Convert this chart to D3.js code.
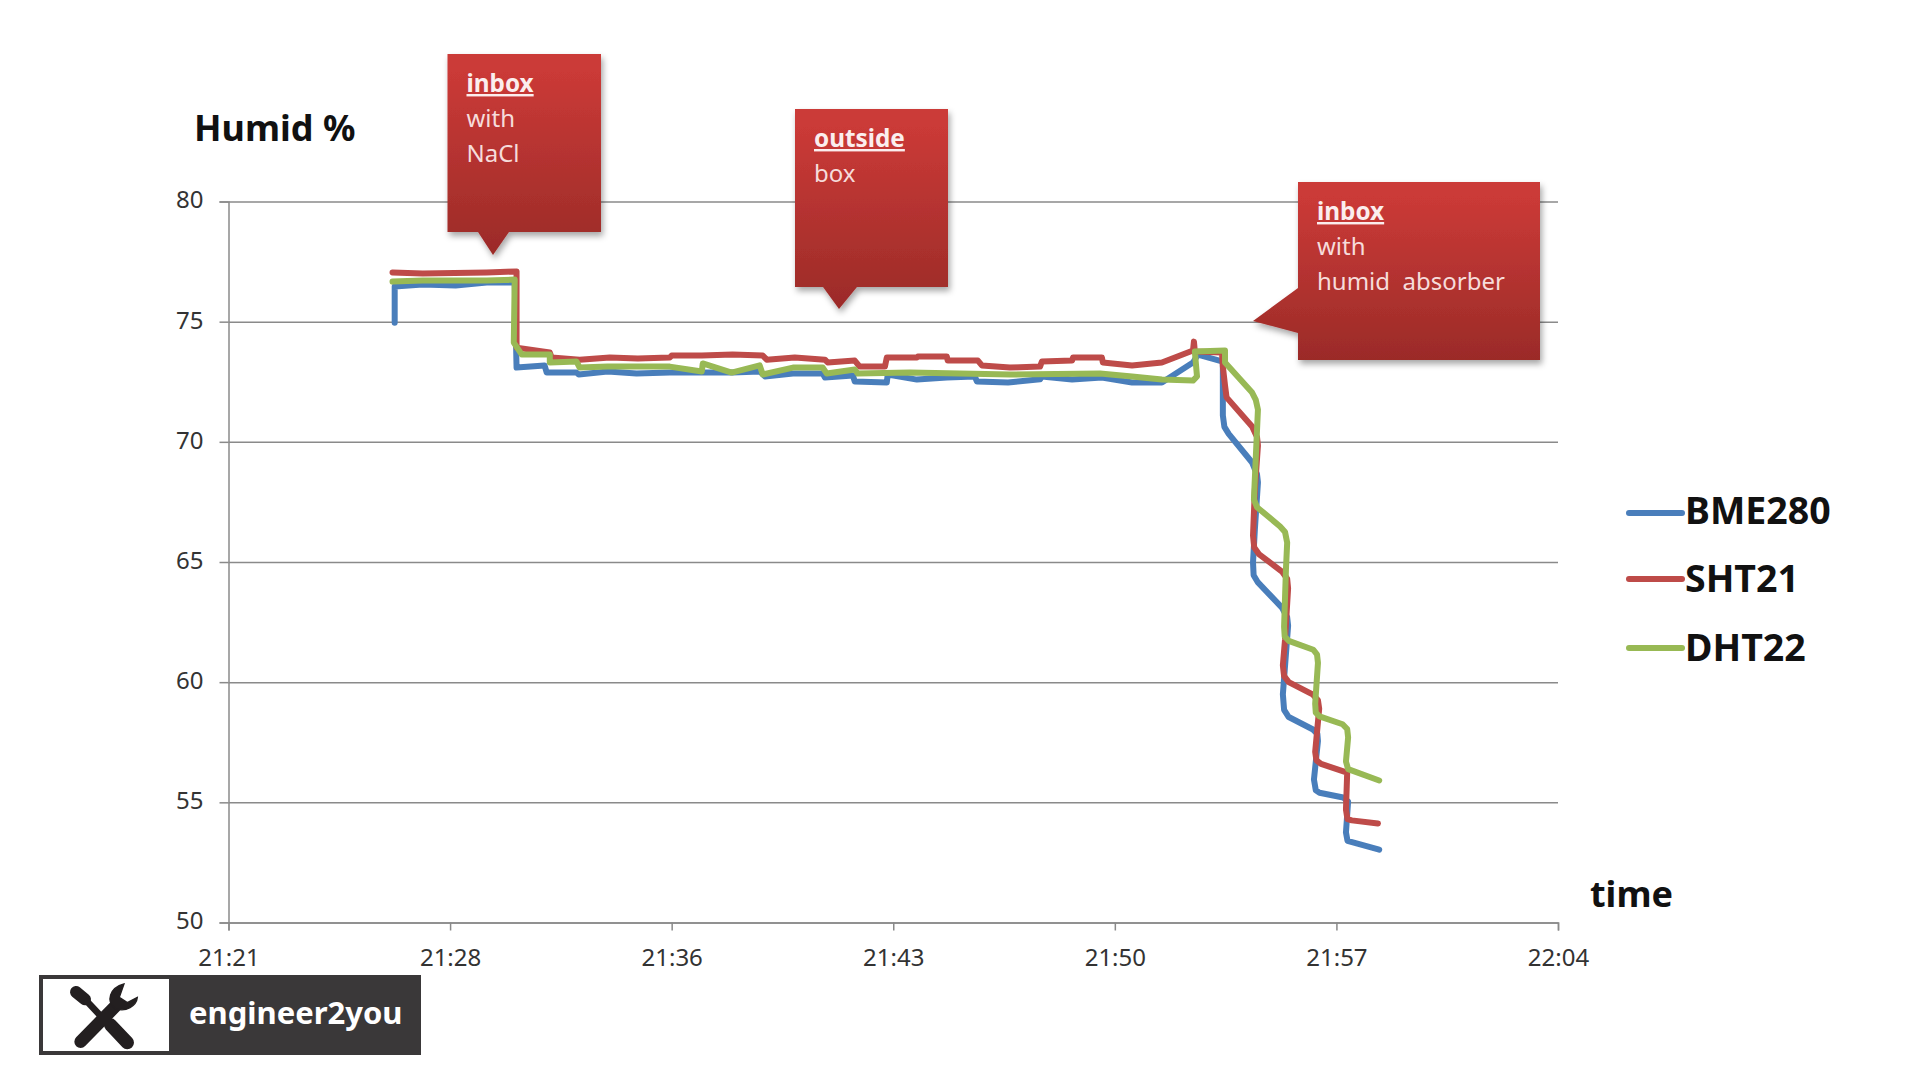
<!DOCTYPE html>
<html><head><meta charset="utf-8">
<script src="https://cdn.jsdelivr.net/npm/d3@7/dist/d3.min.js"></script>
<style>html,body{margin:0;background:#fff}svg{display:block}text{font-family:"Noto Sans",sans-serif}</style>
</head><body><svg id="c" width="1920" height="1080"></svg>
<script>
// time = minutes after 21:00, value = humidity %
const seriesNames = ["BME280","SHT21","DHT22"];
const seriesColors = ["#4a7ebb","#be4b48","#98b954"];
const yTicks = [50,55,60,65,70,75,80];
const xTicks = [21.6,28.8,36,43.2,50.4,57.6,64.8];
const xTickLabels = ["21:21","21:28","21:36","21:43","21:50","21:57","22:04"];
const bme280 = [[27.00,74.96],[27.00,76.46],[27.91,76.55],[28.98,76.50],[29.99,76.63],[30.90,76.63],[30.96,73.09],[31.87,73.18],[31.94,72.88],[32.91,72.88],[32.98,72.80],[33.92,72.93],[34.86,72.84],[35.94,72.88],[36.98,72.88],[37.98,72.88],[38.86,72.93],[39.03,72.72],[39.94,72.84],[40.91,72.84],[40.98,72.68],[41.89,72.76],[41.95,72.51],[42.99,72.47],[43.02,72.80],[43.97,72.59],[44.94,72.68],[45.85,72.72],[45.92,72.51],[46.93,72.47],[47.97,72.60],[48.03,72.72],[49.01,72.59],[49.98,72.68],[50.96,72.47],[51.93,72.47],[52.94,73.30],[53.10,73.63],[53.91,73.34],[53.91,71.10],[53.96,70.62],[54.10,70.33],[54.86,69.14],[55.02,68.65],[55.05,68.31],[54.95,66.35],[54.89,64.98],[54.91,64.45],[55.05,64.15],[55.83,63.10],[56.00,62.70],[56.03,62.35],[55.86,59.50],[55.90,58.85],[56.05,58.55],[56.84,58.03],[56.98,57.85],[57.00,57.55],[56.87,55.95],[56.93,55.50],[57.05,55.40],[57.82,55.20],[57.98,55.03],[57.91,53.75],[57.96,53.40],[58.99,53.03]];
const sht21 = [[26.93,77.05],[27.91,77.00],[29.99,77.05],[30.96,77.09],[30.96,73.92],[32.04,73.72],[32.10,73.51],[33.01,73.42],[33.99,73.51],[34.90,73.47],[35.94,73.51],[36.00,73.59],[36.98,73.59],[37.98,73.63],[38.96,73.59],[39.09,73.42],[40.00,73.51],[40.98,73.42],[41.07,73.30],[41.95,73.38],[42.11,73.13],[42.93,73.13],[42.99,73.51],[43.97,73.51],[44.00,73.55],[44.94,73.55],[44.97,73.38],[45.95,73.38],[46.08,73.18],[46.99,73.09],[47.97,73.13],[48.03,73.34],[49.01,73.38],[49.04,73.51],[49.98,73.51],[50.01,73.30],[50.96,73.18],[51.93,73.30],[52.94,73.80],[52.97,74.17],[53.00,73.76],[53.88,73.72],[53.91,73.13],[53.98,72.35],[54.03,71.85],[54.86,70.64],[55.02,70.20],[55.05,69.85],[54.95,68.01],[54.89,66.10],[54.93,65.60],[55.08,65.33],[55.83,64.60],[56.00,64.30],[56.03,63.90],[55.93,61.77],[55.86,60.70],[55.90,60.25],[56.05,60.00],[56.84,59.48],[57.00,59.25],[57.04,58.90],[56.91,57.10],[56.95,56.75],[57.10,56.60],[57.95,56.24],[57.91,54.70],[57.96,54.30],[58.10,54.25],[58.95,54.12]];
const dht22 = [[26.93,76.67],[27.91,76.71],[29.99,76.71],[30.90,76.75],[30.87,74.13],[31.13,73.63],[32.04,73.63],[32.04,73.30],[32.91,73.34],[33.01,73.09],[33.92,73.13],[35.94,73.13],[36.98,72.93],[37.01,73.26],[37.95,72.88],[38.86,73.18],[38.96,72.80],[39.94,73.09],[40.91,73.09],[41.04,72.84],[41.95,73.01],[42.05,72.84],[43.74,72.88],[46.99,72.80],[49.92,72.84],[50.96,72.72],[51.93,72.59],[52.94,72.55],[53.07,72.72],[53.00,73.76],[53.98,73.80],[53.98,73.30],[54.86,72.05],[54.98,71.75],[55.05,71.34],[54.94,68.20],[54.92,67.60],[55.02,67.28],[55.77,66.48],[55.93,66.25],[56.00,65.81],[55.96,64.69],[55.90,62.30],[55.92,61.90],[56.05,61.72],[56.85,61.35],[56.97,61.15],[57.00,60.80],[56.91,59.10],[56.93,58.73],[57.05,58.58],[57.80,58.25],[57.95,58.05],[57.98,57.70],[57.91,56.70],[57.98,56.38],[58.99,55.91]];
const seriesData = [bme280, sht21, dht22];
const callouts = [
 {box:[447.5,54,601,232], tail:[[509,232],[493,255],[478,232]], head:"inbox", lines:["with","NaCl"]},
 {box:[795,109,948,287], tail:[[857,287],[839,309],[823,287]], head:"outside", lines:["box"]},
 {box:[1298,182,1540,360], tail:[[1298,333],[1253,321],[1298,288]], head:"inbox", lines:["with","humid  absorber"]}
];

const svg = d3.select("#c");
const x = d3.scaleLinear().domain([21.6,64.8]).range([228.5,1558]);
const y = d3.scaleLinear().domain([50,80]).range([922.5,201.5]);

const defs = svg.append("defs");
const g = defs.append("linearGradient").attr("id","red").attr("x1",0).attr("x2",0).attr("y1",0).attr("y2",1);
g.append("stop").attr("offset","8%").attr("stop-color","#cb3a37");
g.append("stop").attr("offset","100%").attr("stop-color","#9b2b28");
const f = defs.append("filter").attr("id","sh").attr("x","-10%").attr("y","-10%").attr("width","125%").attr("height","125%");
f.append("feDropShadow").attr("dx",2).attr("dy",4).attr("stdDeviation",3).attr("flood-color","#000").attr("flood-opacity",0.35);
const bl = defs.append("filter").attr("id","soft").attr("filterUnits","userSpaceOnUse").attr("x",0).attr("y",0).attr("width",1920).attr("height",1080);
bl.append("feGaussianBlur").attr("stdDeviation",0.7);

// grid + axes
const yAxis = svg.append("g").attr("transform","translate(228.5,0)")
  .call(d3.axisLeft(y).tickValues(yTicks).tickSize(9).tickPadding(16));
yAxis.selectAll(".tick").append("line").attr("x1",0).attr("x2",1329.5).attr("stroke","#8a8a8a").attr("stroke-width",1.5);
yAxis.selectAll("text").attr("dy","0.27em");
const xAxis = svg.append("g").attr("transform","translate(0,922.5)")
  .call(d3.axisBottom(x).tickValues(xTicks).tickFormat((d,i)=>xTickLabels[i]).tickSize(8).tickPadding(18));
[yAxis,xAxis].forEach(a=>{
  a.selectAll("path,line").attr("stroke","#8a8a8a").attr("stroke-width",1.5);
  a.selectAll("text").attr("font-size",24).attr("fill","#333");
});

// lines
const line = d3.line().x(d=>x(d[0])).y(d=>y(d[1]));
svg.append("g").attr("filter","url(#soft)").selectAll("path").data(seriesData).join("path")
  .attr("d",line).attr("fill","none").attr("stroke",(d,i)=>seriesColors[i])
  .attr("stroke-width",6).attr("stroke-linejoin","round").attr("stroke-linecap","round");

// callouts
callouts.forEach(c=>{
  const [a,b,r,t]=c.box;
  const pts = c.tail[0][1]===t ? [[a,b],[r,b],[r,t],...c.tail,[a,t]] : [[a,b],[r,b],[r,t],[a,t],...c.tail];
  const gg=svg.append("g");
  gg.append("path").attr("fill","url(#red)").attr("filter","url(#sh)").attr("d",d3.line()(pts)+"Z");
  gg.append("text").attr("x",a+19).attr("y",b+38).attr("font-size",24.3).attr("font-weight",700)
    .attr("fill","#fbeeee").attr("text-decoration","underline").text(c.head);
  c.lines.forEach((l,i)=>gg.append("text").attr("x",a+19).attr("y",b+38+35*(i+1)).attr("font-size",24)
    .attr("fill","#f6dcdb").style("white-space","pre").text(l));
});

// titles
svg.append("text").attr("x",194).attr("y",141).attr("font-size",36).attr("font-weight",700).attr("fill","#111").text("Humid %");
svg.append("text").attr("x",1590).attr("y",907).attr("font-size",36).attr("font-weight",700).attr("fill","#111").text("time");

// legend
const legY=[513,579,648];
const legText=[524,592,661];
seriesNames.forEach((n,i)=>{
  svg.append("line").attr("x1",1629).attr("x2",1682).attr("y1",legY[i]).attr("y2",legY[i])
    .attr("stroke",seriesColors[i]).attr("stroke-width",6).attr("stroke-linecap","round");
  svg.append("text").attr("x",1685).attr("y",legText[i]).attr("font-size",37.5).attr("font-weight",700).attr("fill","#111").text(n);
});

// logo
const logo=svg.append("g");
logo.append("rect").attr("x",39).attr("y",975).attr("width",382).attr("height",80).attr("fill","#3a3839");
logo.append("rect").attr("x",43).attr("y",979).attr("width",126).attr("height",72).attr("fill","#fff");
logo.append("text").attr("x",189).attr("y",1024).attr("font-size",31).attr("font-weight",700).attr("fill","#fff").text("engineer2you");
const ic=logo.append("g").attr("transform","translate(20,960) scale(0.3333)").attr("fill","none").attr("stroke","#231f20").attr("stroke-linecap","round");
ic.append("path").attr("d","M168 96L195 118").attr("stroke-width",36);
ic.append("path").attr("d","M195 118L240 166").attr("stroke-width",20).attr("stroke-linecap","butt");
ic.append("path").attr("d","M272 195L322 248").attr("stroke-width",40);
ic.append("path").attr("d","M182 245L285 140").attr("stroke-width",38);
ic.append("path").attr("d","M312 72C268 84 258 124 285 145C318 160 350 135 352 112L322 128L298 112Z").attr("fill","#231f20").attr("stroke-width",4);
</script></body></html>
